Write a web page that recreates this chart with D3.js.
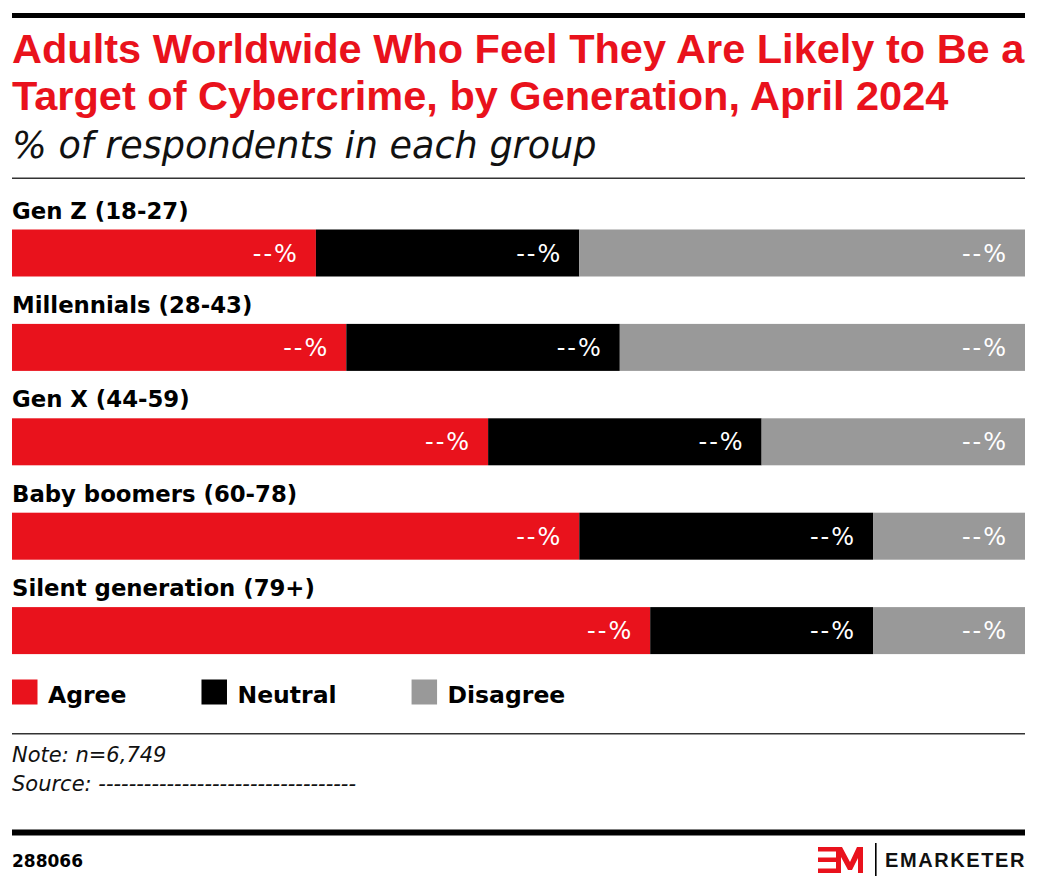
<!DOCTYPE html>
<html>
<head>
<meta charset="utf-8">
<script src="https://cdn.jsdelivr.net/npm/d3@7"></script>
<style>
  html, body { margin: 0; padding: 0; background: #fff; }
  svg { display: block; }
</style>
</head>
<body>
<div id="chart"></div>
<script>
// data
const generations = ["Gen Z (18-27)", "Millennials (28-43)", "Gen X (44-59)", "Baby boomers (60-78)", "Silent generation (79+)"];
const agree = [30, 33, 47, 56, 63];
const neutral = [26, 27, 27, 29, 22];
const disagree = [44, 40, 26, 15, 15];
const seriesNames = ["Agree", "Neutral", "Disagree"];
const valueLabel = "--%";

const titleLines = ["Adults Worldwide Who Feel They Are Likely to Be a", "Target of Cybercrime, by Generation, April 2024"];
const subtitle = "% of respondents in each group";
const noteText = "Note: n=6,749";
const sourceText = "Source: ----------------------------------";
const chartId = "288066";

const width = 1038, height = 890;
const red = "#e9121c";
const colors = [red, "#000000", "#999999"];
const sansBold = "'DejaVu Sans', sans-serif";

const svg = d3.select("#chart")
  .append("svg")
  .attr("width", width)
  .attr("height", height);

svg.append("rect").attr("width", width).attr("height", height).attr("fill", "#fff");

// header
svg.append("rect").attr("x", 12).attr("y", 13).attr("width", 1013).attr("height", 5).attr("fill", "#000");

svg.append("g")
  .selectAll("text")
  .data(titleLines)
  .join("text")
  .attr("x", 12)
  .attr("y", (d, i) => 63 + i * 47)
  .attr("fill", red)
  .style("font-family", "'Liberation Sans', Arial, sans-serif")
  .style("font-weight", "bold")
  .style("font-size", "41.5px")
  .text(d => d);

svg.append("text")
  .attr("x", 12)
  .attr("y", 158)
  .style("font-family", sansBold)
  .style("font-style", "italic")
  .style("font-size", "36.6px")
  .attr("fill", "#111")
  .text(subtitle);

svg.append("rect").attr("x", 12).attr("y", 177.5).attr("width", 1013).attr("height", 1.5).attr("fill", "#333");

// bars
const rows = generations.map((g, i) => ({ generation: g, Agree: agree[i], Neutral: neutral[i], Disagree: disagree[i] }));
const stacked = d3.stack().keys(seriesNames)(rows);

const x = d3.scaleLinear()
  .domain([0, 100])
  .range([12, 1025]);

const y = d3.scaleBand()
  .domain(generations)
  .range([182.5, 182.5 + 94.4 * generations.length]);

const barH = 47;

svg.append("g")
  .selectAll("text")
  .data(generations)
  .join("text")
  .attr("x", 12)
  .attr("y", d => y(d) + 36)
  .style("font-family", sansBold)
  .style("font-weight", "bold")
  .style("font-size", "22.8px")
  .attr("fill", "#000")
  .text(d => d);

const layers = svg.append("g")
  .selectAll("g")
  .data(stacked)
  .join("g")
  .attr("fill", (d, i) => colors[i]);

layers.selectAll("rect")
  .data(d => d)
  .join("rect")
  .attr("x", d => x(d[0]))
  .attr("y", d => y(d.data.generation) + barH)
  .attr("width", d => x(d[1]) - x(d[0]))
  .attr("height", barH);

layers.selectAll("text")
  .data(d => d)
  .join("text")
  .attr("x", d => x(d[1]) - 17)
  .attr("y", d => y(d.data.generation) + barH + barH / 2 + 8.5)
  .attr("text-anchor", "end")
  .attr("fill", "#fff")
  .style("font-family", sansBold)
  .style("font-size", "24px")
  .style("letter-spacing", "2px")
  .text(valueLabel);

// legend
const legend = svg.append("g");
let lx = 12;
seriesNames.forEach((name, i) => {
  legend.append("rect")
    .attr("x", lx).attr("y", 679.5)
    .attr("width", 25.5).attr("height", 25)
    .attr("fill", colors[i]);
  const t = legend.append("text")
    .attr("x", lx + 36)
    .attr("y", 703)
    .style("font-family", sansBold)
    .style("font-weight", "bold")
    .style("font-size", "23.5px")
    .attr("fill", "#000")
    .text(name);
  lx += 36 + t.node().getComputedTextLength() + 75;
});

// footer
svg.append("rect").attr("x", 12).attr("y", 733).attr("width", 1013).attr("height", 1.5).attr("fill", "#333");

svg.append("g")
  .selectAll("text")
  .data([noteText, sourceText])
  .join("text")
  .attr("x", 12)
  .attr("y", (d, i) => 762 + i * 29)
  .style("font-family", sansBold)
  .style("font-style", "italic")
  .style("font-size", "21px")
  .attr("fill", "#111")
  .text(d => d);

svg.append("rect").attr("x", 12).attr("y", 829.5).attr("width", 1013).attr("height", 6).attr("fill", "#000");

svg.append("text")
  .attr("x", 12)
  .attr("y", 867)
  .style("font-family", sansBold)
  .style("font-weight", "bold")
  .style("font-size", "17px")
  .attr("fill", "#000")
  .text(chartId);

// logo
const logo = svg.append("g");
[[847, 20], [857.5, 18], [868.5, 20]].forEach(([ly, lw]) => {
  logo.append("rect").attr("x", 818).attr("y", ly).attr("width", lw).attr("height", 4.5).attr("fill", red);
});
logo.append("path")
  .attr("d", "M836,873 L836,847 L842,847 L850,862 L857,847 L863,847 L863,873 L858,873 L858,858 L852,870 L848,870 L841,857 L841,873 Z")
  .attr("fill", red);
logo.append("rect").attr("x", 875).attr("y", 843).attr("width", 1.6).attr("height", 33).attr("fill", "#000");
logo.append("text")
  .attr("x", 885)
  .attr("y", 867)
  .style("font-family", "'Liberation Sans', Arial, sans-serif")
  .style("font-weight", "bold")
  .style("font-size", "20px")
  .style("letter-spacing", "1.6px")
  .attr("fill", "#111")
  .text("EMARKETER");
</script>
</body>
</html>
